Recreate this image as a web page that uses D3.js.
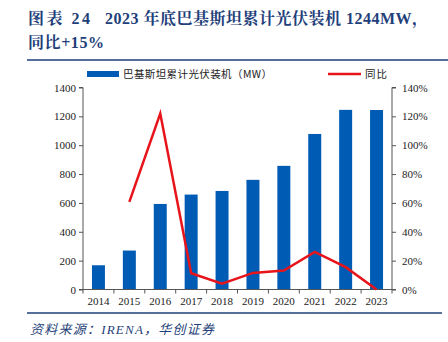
<!DOCTYPE html>
<html lang="zh">
<head>
<meta charset="UTF-8">
<script src="https://d3js.org/d3.v7.min.js"></script>
<style>
  body { margin: 0; background: #fff; }
  svg { display: block; }
  .tick text { font-family: "Liberation Serif", "Times New Roman", serif; font-size: 11px; fill: #222; }
  .domain, .tick line { stroke: #555; }
</style>
</head>
<body>
<script>
const years = ["2014","2015","2016","2017","2018","2019","2020","2021","2022","2023"];
const capacity = [168, 270, 593, 658, 683, 760, 857, 1078, 1245, 1244];
const yoy = [null, 60.7, 122, 11.3, 4, 11.5, 13.2, 26, 15.5, 0];
const leftTicks = [0, 200, 400, 600, 800, 1000, 1200, 1400];
const rightTicks = [0, 20, 40, 60, 80, 100, 120, 140];

const W = 448, H = 342;
const m = { left: 83, right: 392, top: 87.5, bottom: 289.5 };
const blue = "#005bb5", red = "#e8141c", navy = "#1f3f7a";
const cjk = "'Noto Sans CJK SC', sans-serif";
const serif = "'Liberation Serif', 'Noto Serif CJK SC', 'Noto Sans CJK SC', serif";

const svg = d3.select("body").append("svg").attr("width", W).attr("height", H);

// title
const title = svg.append("g").attr("fill", navy).attr("font-weight", "bold")
  .attr("font-family", serif).attr("font-size", 16);
title.append("text").attr("x", 28).attr("y", 24).attr("textLength", 62)
  .attr("xml:space", "preserve").text("图表 24");
title.append("text").attr("x", 105).attr("y", 24).attr("textLength", 323)
  .attr("xml:space", "preserve").text("2023 年底巴基斯坦累计光伏装机 1244MW，");
title.append("text").attr("x", 28).attr("y", 48).attr("textLength", 76).text("同比+15%");
svg.append("line").attr("x1", 27).attr("x2", W).attr("y1", 60).attr("y2", 60)
  .attr("stroke", navy).attr("stroke-width", 1.5);

// scales
const x = d3.scaleBand().domain(years).range([m.left, m.right]).paddingInner(0).paddingOuter(0);
const yL = d3.scaleLinear().domain([0, 1400]).range([m.bottom, m.top]);
const yR = d3.scaleLinear().domain([0, 140]).range([m.bottom, m.top]);

// bars
svg.append("g").selectAll("rect").data(years).join("rect")
  .attr("x", (d) => x(d) + x.bandwidth() * 0.29)
  .attr("width", x.bandwidth() * 0.42)
  .attr("y", (d, i) => yL(capacity[i]))
  .attr("height", (d, i) => m.bottom - yL(capacity[i]))
  .attr("fill", blue);

// axes
svg.append("g").attr("transform", `translate(${m.left},0)`)
  .call(d3.axisLeft(yL).tickValues(leftTicks).tickSize(4).tickPadding(3).tickFormat(d3.format("d")))
  .call(g => g.select(".domain").attr("d", `M-4,${m.top}H0V${m.bottom}`));
svg.append("g").attr("transform", `translate(${m.right},0)`)
  .call(d3.axisRight(yR).tickValues(rightTicks).tickSize(4).tickPadding(6).tickFormat(d => d + "%"))
  .call(g => g.select(".domain").attr("d", `M4,${m.top}H0V${m.bottom}`));

const xAxis = svg.append("g").attr("transform", `translate(0,${m.bottom})`);
xAxis.append("line").attr("x1", m.left - 4).attr("x2", m.right + 4)
  .attr("stroke", "#555");
xAxis.selectAll("line.t").data(d3.range(years.length + 1)).join("line")
  .attr("class", "t")
  .attr("x1", i => m.left + i * x.step()).attr("x2", i => m.left + i * x.step())
  .attr("y1", 0).attr("y2", 4).attr("stroke", "#555");
xAxis.selectAll("text").data(years).join("text")
  .attr("x", d => x(d) + x.bandwidth() / 2).attr("y", 15)
  .attr("text-anchor", "middle")
  .attr("font-family", "'Liberation Serif', serif").attr("font-size", 11).attr("fill", "#222")
  .text(d => d);

// yoy line
const line = d3.line()
  .defined(d => d != null)
  .x((d, i) => x(years[i]) + x.bandwidth() / 2)
  .y(d => yR(d));
svg.append("path").datum(yoy).attr("d", line)
  .attr("fill", "none").attr("stroke", red).attr("stroke-width", 2.5)
  .attr("stroke-linejoin", "miter");

// legend
const lg = svg.append("g").attr("font-family", cjk).attr("font-size", 10.5).attr("fill", "#222");
lg.append("rect").attr("x", 87).attr("y", 71).attr("width", 32).attr("height", 6).attr("fill", blue);
lg.append("text").attr("x", 123).attr("y", 78).attr("textLength", 149).text("巴基斯坦累计光伏装机（MW）");
lg.append("line").attr("x1", 328).attr("x2", 361).attr("y1", 74).attr("y2", 74)
  .attr("stroke", red).attr("stroke-width", 2.5);
lg.append("text").attr("x", 365).attr("y", 78).attr("textLength", 22).text("同比");

// footer
svg.append("line").attr("x1", 27).attr("x2", 442).attr("y1", 313).attr("y2", 313)
  .attr("stroke", navy).attr("stroke-width", 1.5);
svg.append("text").attr("x", 30).attr("y", 334).attr("textLength", 184)
  .attr("font-family", "'Liberation Serif', 'Noto Sans CJK SC', serif")
  .attr("font-style", "italic").attr("font-size", 13).attr("fill", navy)
  .text("资料来源：IRENA，华创证券");
</script>
</body>
</html>
